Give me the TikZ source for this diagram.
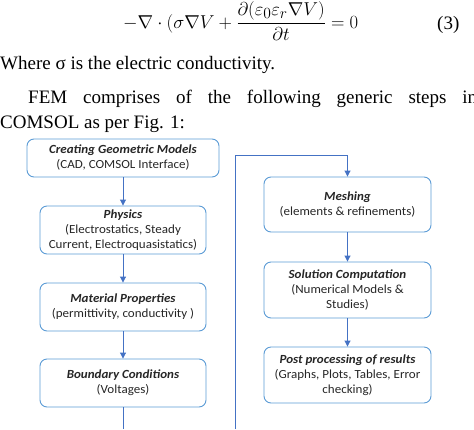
\documentclass[tikz,border=0pt]{standalone}
\usepackage{amsmath}
\usepackage{graphicx}
\usepackage{fontspec}
\setmainfont{Liberation Serif}
\newfontfamily\boxfont[FakeStretch=1.05]{Carlito}
\usetikzlibrary{arrows.meta}
\definecolor{boxblue}{RGB}{91,155,213}
\definecolor{arrblue}{RGB}{68,114,196}
\begin{document}
\begin{tikzpicture}[x=1pt,y=-1pt,
  stepbox/.style={draw=boxblue, line width=0.9pt, rounded corners=7pt, align=center,
    font=\boxfont\fontsize{12.4}{15}\selectfont, inner sep=0pt, text=black!85},
  flow/.style={draw=arrblue, line width=0.9pt, -{Triangle[width=6pt,length=6pt]}},
  plain/.style={draw=arrblue, line width=0.9pt},
  body/.style={font=\fontsize{19}{23}\selectfont, inner sep=0pt, anchor=base west}]
\useasboundingbox (0,0) rectangle (474,429);

% text
\node[body] (eq) at (123,28) {\resizebox{235pt}{!}{$-\nabla\cdot(\sigma\nabla V+\dfrac{\partial(\varepsilon_0\varepsilon_r\nabla V)}{\partial t}=0$}};
\node[body] (num) at (437,29) {(3)};
\node[body] (l1) at (0,69) {Where σ is the electric conductivity.};
\node[body] (l2) at (28,103) {\makebox[449pt][s]{FEM comprises of the following generic steps in}};
\node[body] (l3) at (0,128) {COMSOL as per Fig. 1:};

% boxes
\node[stepbox, minimum width=192pt, minimum height=38pt] (b1) at (123,158)
  {\textbf{\textit{Creating Geometric Models}}\\(CAD, COMSOL Interface)};
\node[stepbox, minimum width=166pt, minimum height=48pt] (b2) at (123,230)
  {\textbf{\textit{Physics}}\\(Electrostatics, Steady\\Current, Electroquasistatics)};
\node[stepbox, minimum width=166pt, minimum height=48pt] (b3) at (123,307)
  {\textbf{\textit{Material Properties}}\\(permittivity, conductivity )};
\node[stepbox, minimum width=166pt, minimum height=48pt] (b4) at (123,383)
  {\textbf{\textit{Boundary Conditions}}\\(Voltages)};
\node[stepbox, minimum width=167pt, minimum height=55pt] (b5) at (347.5,204.5)
  {\textbf{\textit{Meshing}}\\(elements \& refinements)};
\node[stepbox, minimum width=167pt, minimum height=56pt] (b6) at (347.5,290)
  {\textbf{\textit{Solution Computation}}\\(Numerical Models \&\\Studies)};
\node[stepbox, minimum width=167pt, minimum height=56pt] (b7) at (347.5,375)
  {\textbf{\textit{Post processing of results}}\\(Graphs, Plots, Tables, Error\\checking)};

% connectors
\draw[flow] (b1) -- (b2);
\draw[flow] (b2) -- (b3);
\draw[flow] (b3) -- (b4);
\coordinate (bot) at (123,429);
\draw[plain] (b4) -- (bot);
\coordinate (c1) at (235,429);
\coordinate (c2) at (235,155);
\draw[flow] (c1) -- (c2) -| (b5.north);
\draw[flow] (b5) -- (b6);
\draw[flow] (b6) -- (b7);
\end{tikzpicture}
\end{document}
